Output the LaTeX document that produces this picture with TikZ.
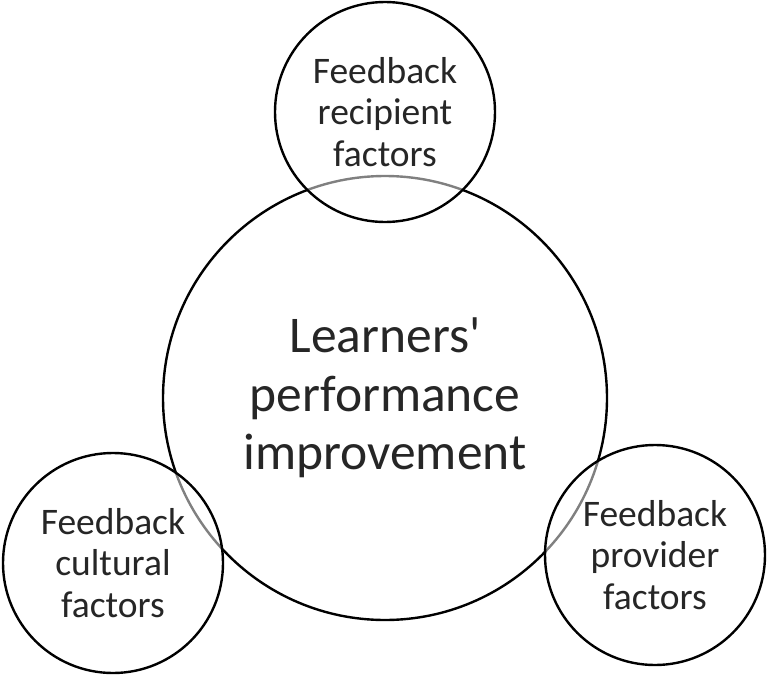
\documentclass[tikz,border=0pt]{standalone}
\usepackage{fontspec}
\setmainfont{Carlito}
\begin{document}
\begin{tikzpicture}[x=1pt,y=-1pt,
  bigc/.style={circle,draw=black,line width=2.4pt,minimum size=444pt,inner sep=0pt,align=center,text=black!85,
    font=\fontsize{51.5}{58.5}\selectfont},
  smallc/.style={circle,draw=black,line width=2.4pt,fill=white,fill opacity=0.5,draw opacity=1,text opacity=1,
    minimum size=220pt,inner sep=0pt,align=center,text=black!85,font=\fontsize{37.5}{41.5}\selectfont}]
\useasboundingbox[fill=white] (0,0) rectangle (768,677);
\node[bigc] (main) at (385,398) {Learners\textquotesingle\\performance\\improvement};
\node[smallc] (rec) at (385,112) {Feedback\\recipient\\factors};
\node[smallc] (cul) at (113,563) {Feedback\\cultural\\factors};
\node[smallc] (pro) at (655,555) {Feedback\\provider\\factors};
\end{tikzpicture}
\end{document}
